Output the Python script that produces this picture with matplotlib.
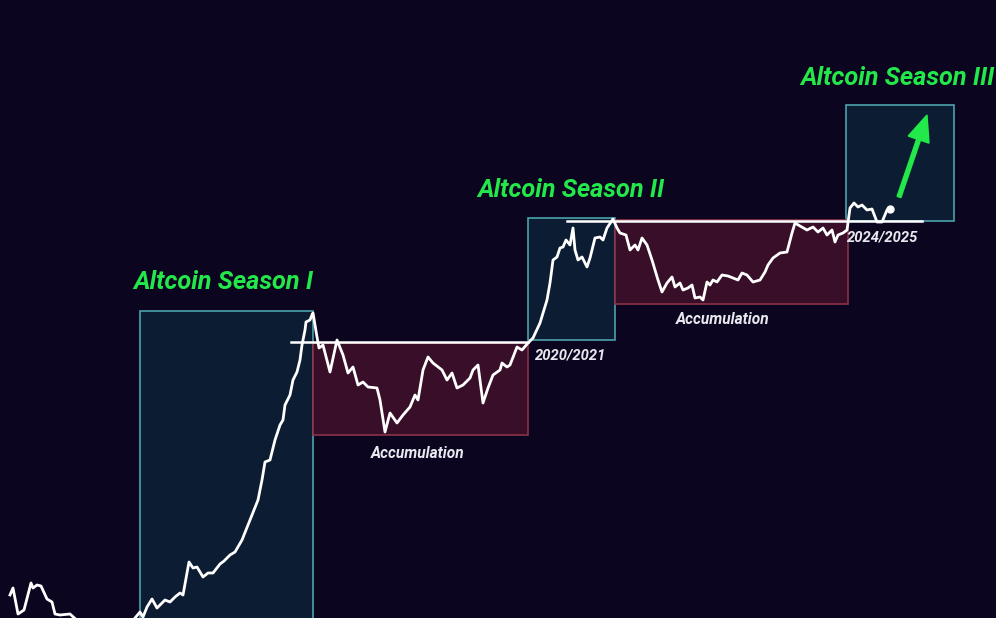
import matplotlib
matplotlib.use("Agg")
import matplotlib.pyplot as plt
from matplotlib.patches import Rectangle, FancyArrow

# price path (chart units: x = time step, y = level)
px = [10, 13, 18, 24, 31, 33, 37, 41, 47, 52, 55, 60, 70, 90, 120,
      140, 143, 147, 152, 157, 160, 165, 170, 175, 180, 183, 189, 193, 197, 203, 208, 213, 220, 224, 230, 235, 242,
      250, 258, 262, 265, 270, 275, 280, 283, 285, 290, 293, 297, 300, 302, 305, 306, 310, 312, 313,
      317, 319, 323, 330, 337, 343, 348, 353, 358, 363, 368, 377, 380, 385, 390, 397, 403, 410, 415, 418,
      423, 428, 433, 442, 447, 452, 457, 463, 470, 473, 478, 483, 488, 493, 500, 502, 507, 510, 517, 522, 528,
      533, 540, 547, 550, 553, 557, 560, 563, 566, 570, 573, 575, 578, 582, 587, 590, 595, 600, 603, 607, 613,
      617, 620, 626, 630, 635, 638, 642, 647, 652, 655, 658, 662, 667, 672, 675, 680, 683, 688, 692, 695, 700,
      703, 707, 710, 713, 717, 722, 728, 733, 738, 742, 747, 753, 760, 765, 768, 773, 780, 787, 792, 795, 800,
      807, 813, 818, 823, 827, 832, 835, 838, 843, 847, 850, 854, 858, 862, 867, 872, 877, 882, 887, 890]
py = [595, 588, 614, 610, 583, 588, 585, 586, 599, 602, 614, 615, 614, 632, 636,
      612, 617, 607, 599, 608, 605, 600, 602, 597, 593, 595, 562, 568, 567, 577, 573, 573, 564, 561, 555, 552, 540,
      520, 500, 480, 462, 460, 440, 425, 420, 405, 395, 380, 372, 360, 345, 330, 322, 320, 315, 313,
      337, 348, 345, 372, 340, 355, 373, 367, 385, 382, 387, 388, 400, 432, 413, 423, 415, 407, 395, 400,
      370, 357, 363, 370, 380, 373, 388, 385, 378, 370, 365, 403, 388, 375, 370, 363, 367, 365, 347, 350, 343,
      338, 323, 300, 283, 260, 257, 248, 247, 240, 245, 228, 250, 260, 257, 267, 258, 238, 237, 240, 228, 219,
      228, 233, 235, 250, 245, 250, 238, 245, 260, 270, 280, 292, 283, 277, 287, 283, 290, 288, 285, 298, 297,
      300, 282, 285, 280, 282, 275, 276, 278, 280, 273, 275, 282, 280, 272, 265, 258, 253, 252, 233, 223, 226,
      230, 227, 232, 228, 235, 230, 242, 235, 233, 230, 208, 203, 207, 205, 210, 209, 222, 222, 210, 209]
H = 618
py = [H - v for v in py]

# zones: (x0, x1, top, bottom) in the same units
season_zones = [(140, 313, 311, 640), (528, 615, 218, 340), (846, 954, 105, 221)]
accum_zones = [(313, 528, 343, 435), (615, 848, 220, 304)]
resistance = [(291, 528, 342), (567, 922, 221)]

season_labels = ["Altcoin Season I", "Altcoin Season II", "Altcoin Season III"]
season_label_pos = [(133, 282), (477, 190), (800, 78)]
accum_label_pos = [(418, 453), (723, 319)]
cycle_labels = ["2020/2021", "2024/2025"]
cycle_label_pos = [(571, 355), (883, 237)]

bg = "#0b0520"
teal_fill = "#0c1c33"
teal_edge = "#4aa3ab"
red_fill = "#380e28"
red_edge = "#8a3346"
green = "#22e84a"

fig = plt.figure(figsize=(9.96, 6.18), dpi=100, facecolor=bg)
ax = fig.add_axes([0, 0, 1, 1])
ax.set_facecolor(bg)
ax.set_xlim(0, 996)
ax.set_ylim(0, H)
ax.axis("off")

for x0, x1, top, bot in season_zones:
    ax.add_patch(Rectangle((x0, H - bot), x1 - x0, bot - top, facecolor=teal_fill,
                           edgecolor=teal_edge, lw=1.2, zorder=1))
for x0, x1, top, bot in accum_zones:
    ax.add_patch(Rectangle((x0, H - bot), x1 - x0, bot - top, facecolor=red_fill,
                           edgecolor=red_edge, lw=1.2, zorder=1))
for x0, x1, y in resistance:
    ax.plot([x0, x1], [H - y, H - y], color="white", lw=1.8, zorder=3)

ax.plot(px, py, color="white", lw=2, zorder=4, solid_joinstyle="round")
ax.plot(px[-1], py[-1], "o", color="white", ms=5, zorder=5)

# breakout arrow
ax.add_patch(FancyArrow(899, H - 197, 28, 82, width=4, head_width=22,
                        head_length=26, length_includes_head=True, color=green, zorder=5))

font = dict(family="Roboto", weight="bold", style="italic")
for lab, (x, y) in zip(season_labels, season_label_pos):
    ax.text(x, H - y, lab, color=green, fontsize=18.3, ha="left", va="center", zorder=6, **font)
for x, y in accum_label_pos:
    ax.text(x, H - y, "Accumulation", color="#e8e8ee", fontsize=11.2, ha="center", va="center", zorder=6, **font)
for lab, (x, y) in zip(cycle_labels, cycle_label_pos):
    ax.text(x, H - y, lab, color="#e8e8ee", fontsize=10.6, ha="center", va="center", zorder=6, **font)

fig.savefig("out.png", dpi=100, facecolor=bg)
